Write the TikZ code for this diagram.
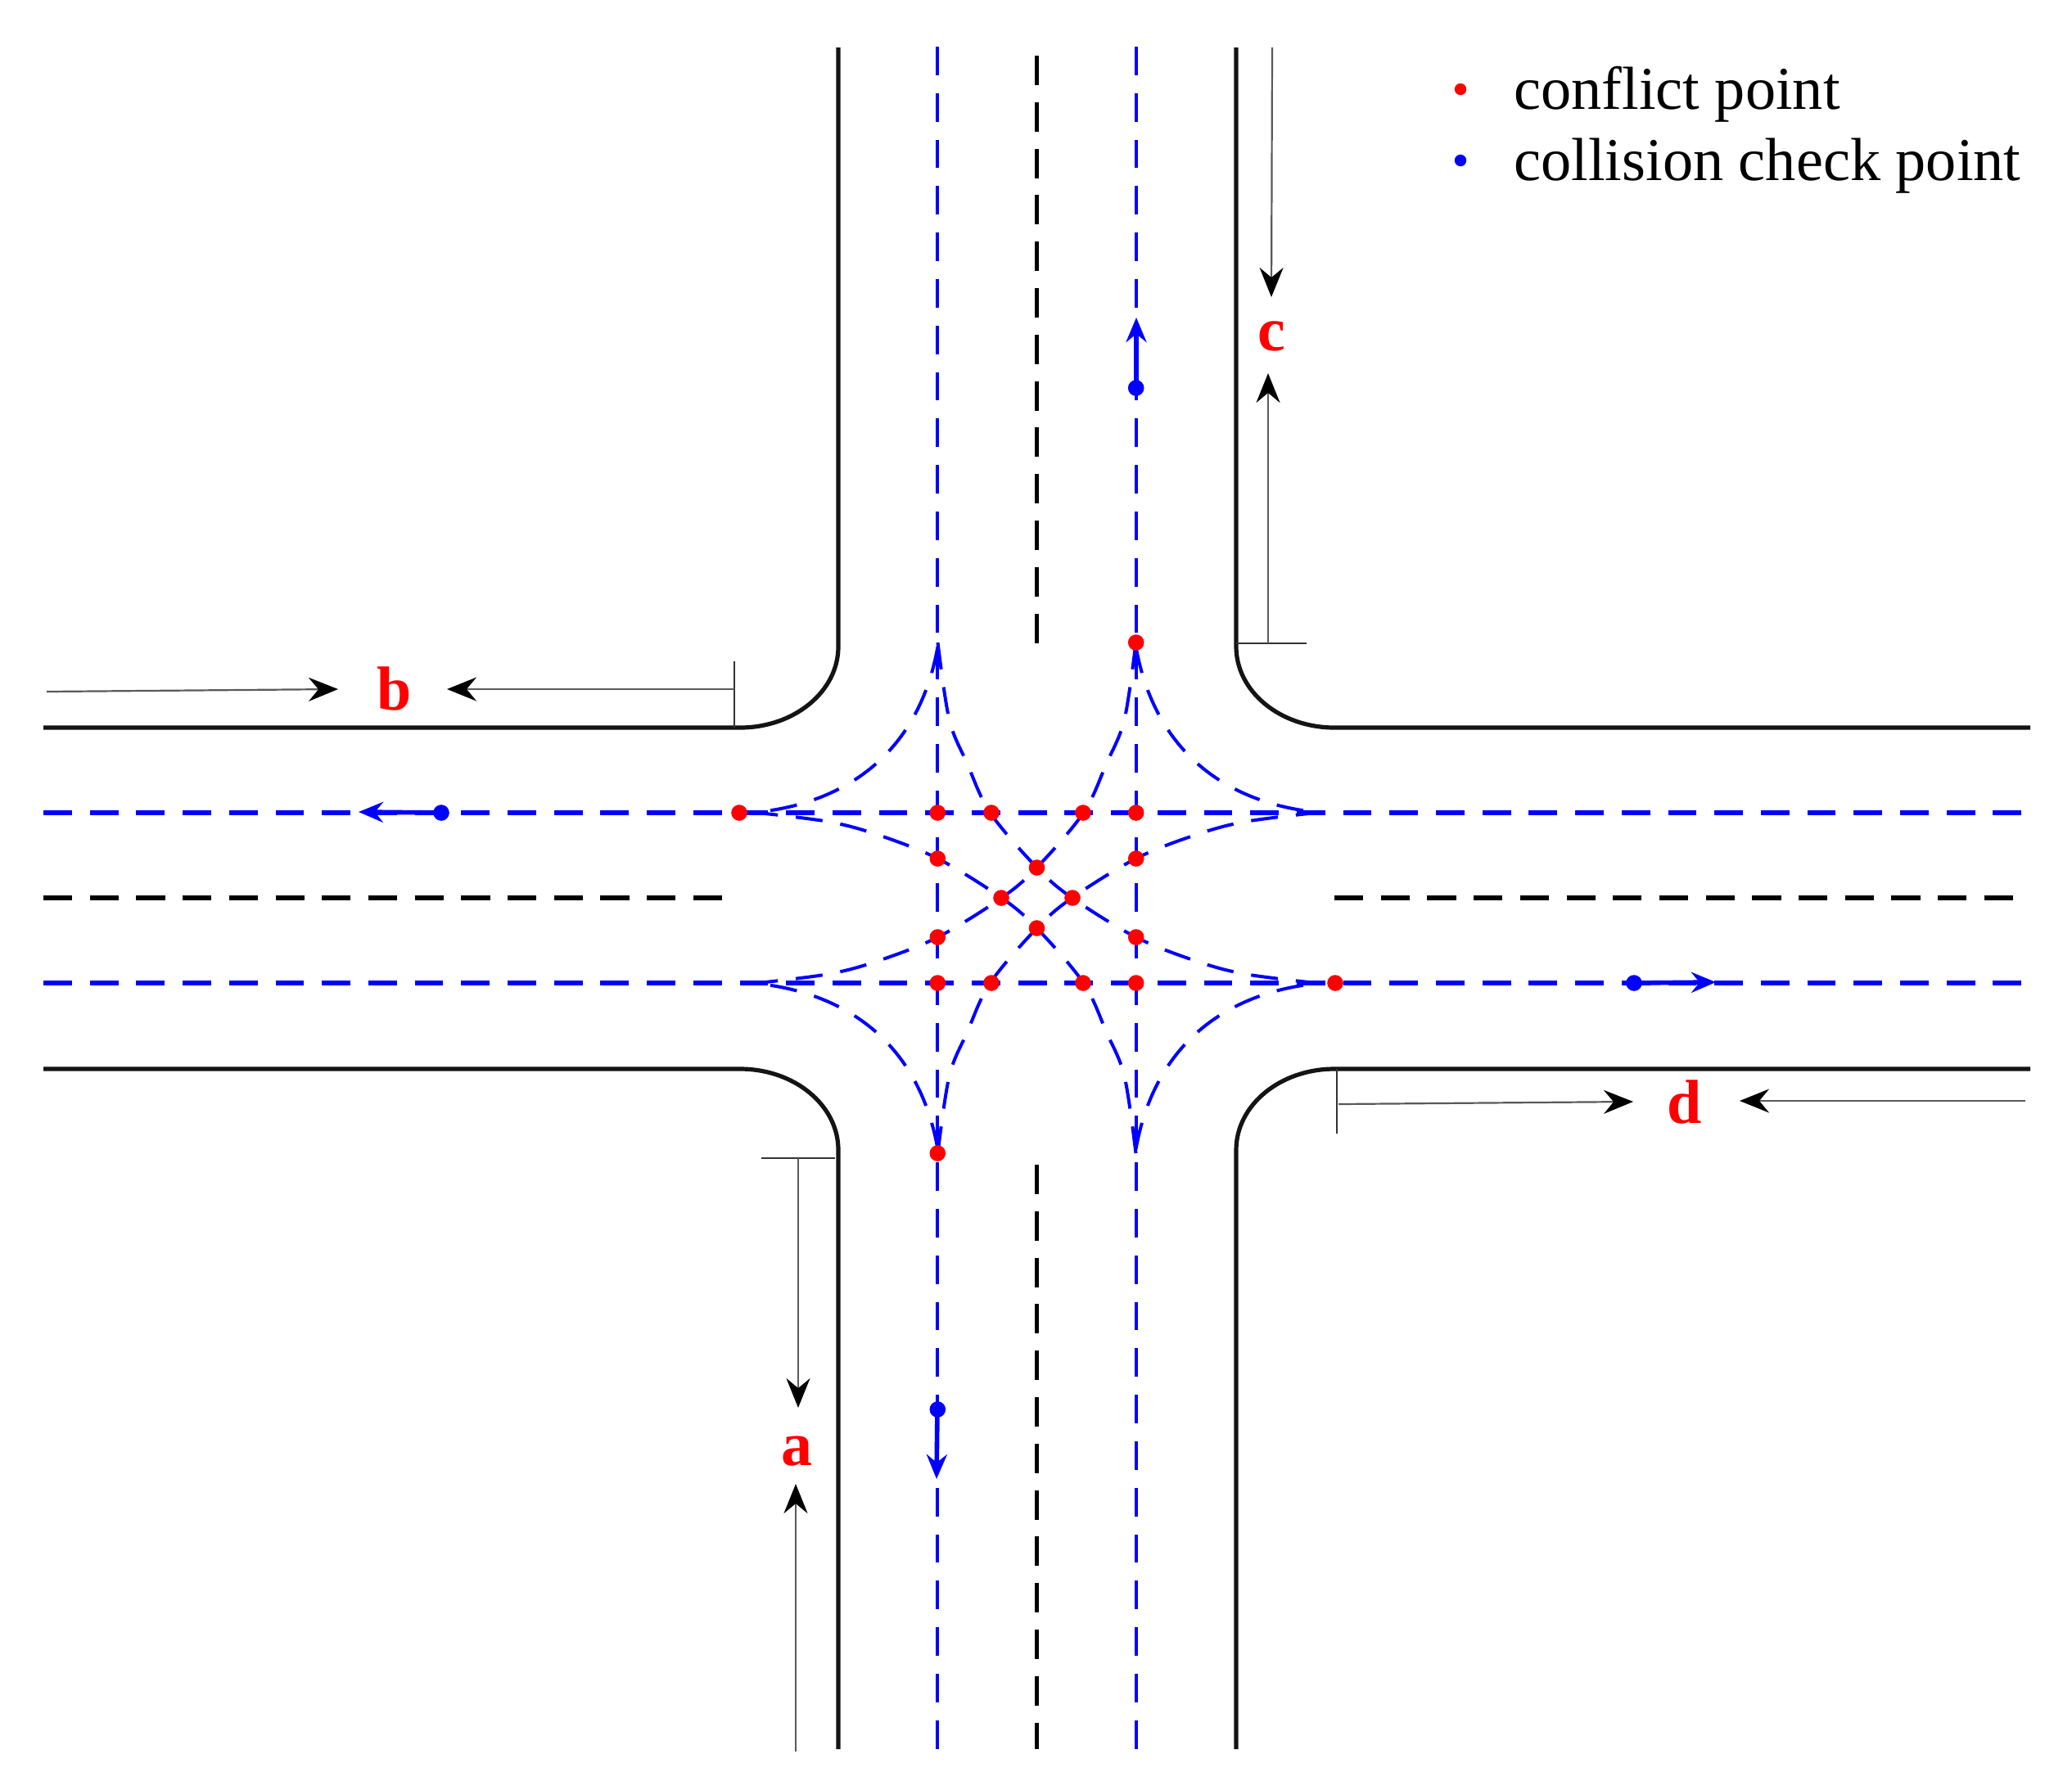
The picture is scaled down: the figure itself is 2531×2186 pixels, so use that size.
\documentclass[tikz,border=0pt]{standalone}
\usepackage{fontspec}
\setmainfont{Liberation Serif}
\usetikzlibrary{arrows.meta}
\definecolor{rblue}{RGB}{0,0,255}
\definecolor{rred}{RGB}{255,0,0}
\tikzset{
  road/.style={line width=2.6pt,black!92},
  centre/.style={line width=2.8pt,black,dash pattern=on 17.6pt off 10.75pt},
  centrev/.style={line width=2.8pt,black,dash pattern=on 18pt off 10.4pt},
  bluehoriz/.style={line width=2.8pt,rblue,dash pattern=on 17.4pt off 10.95pt},
  bluevert/.style={line width=2.1pt,rblue,dash pattern=on 17.4pt off 11pt},
  bluecurve/.style={line width=2pt,rblue,dash pattern=on 16.5pt off 11pt},
  redpt/.style={circle,fill=rred,inner sep=0pt,minimum size=9.8pt},
  bluept/.style={circle,fill=rblue,inner sep=0pt,minimum size=9.8pt},
  legred/.style={circle,fill=rred,inner sep=0pt,minimum size=7.2pt},
  legblue/.style={circle,fill=rblue,inner sep=0pt,minimum size=7.2pt},
  thinarrow/.style={line width=1.1pt,black!65,-{Stealth[length=18pt,width=14.5pt,inset=6pt,color=black]}},
  stopbar/.style={line width=1.4pt,black!80},
  bluearrow/.style={line width=2.8pt,rblue,-{Stealth[length=15pt,width=12.5pt,inset=5pt]}},
  approach/.style={text=rred,font=\bfseries\fontsize{38}{40}\selectfont,inner sep=0pt,anchor=base},
  legtext/.style={font=\fontsize{37.15}{40}\selectfont,inner sep=0pt,anchor=base west}
}
\newcommand{\leftturn}{plot[smooth,tension=0.55] coordinates {(121,-312) (107,-218) (85,-164) (57,-104) (0,-37) (-43,0) (-121,48) (-194,77) (-254,93) (-341,104)}}
\newcommand{\rightturn}{(-121,-307) .. controls (-146,-167) and (-246,-112) .. (-350,-104)}
\begin{document}
\begin{tikzpicture}[x=0.5pt,y=-0.5pt]
\useasboundingbox (0,0) rectangle (2531,2186);
% road edges
\draw[road] (1024,58) -- (1024,790) .. controls (1024,845) and (970,889) .. (904,889) -- (53,889);
\draw[road] (1510,58) -- (1510,790) .. controls (1510,845) and (1564,889) .. (1630,889) -- (2480,889);
\draw[road] (1024,2137) -- (1024,1405) .. controls (1024,1350) and (970,1306) .. (904,1306) -- (53,1306);
\draw[road] (1510,2137) -- (1510,1405) .. controls (1510,1350) and (1564,1306) .. (1630,1306) -- (2480,1306);
% centre lines
\draw[centrev] (1266.5,68) -- (1266.5,786);
\draw[centrev] (1266.5,1423) -- (1266.5,2137);
\draw[centre] (53,1097) -- (883,1097);
\draw[centre] (1630,1097) -- (2460,1097);
% straight blue paths
\draw[bluehoriz] (53,993) -- (2478,993);
\draw[bluehoriz] (53,1201) -- (2478,1201);
\draw[bluevert] (1145.3,57) -- (1145.3,2137);
\draw[bluevert] (1387.7,57) -- (1387.7,2137);
% turning paths
\begin{scope}[shift={(1266.5,1097)}]
  \draw[bluecurve] \leftturn;
  \draw[bluecurve,xscale=-1] \leftturn;
  \draw[bluecurve,yscale=-1] \leftturn;
  \draw[bluecurve,xscale=-1,yscale=-1] \leftturn;
  \draw[bluecurve] \rightturn;
  \draw[bluecurve,xscale=-1] \rightturn;
  \draw[bluecurve,yscale=-1] \rightturn;
  \draw[bluecurve,xscale=-1,yscale=-1] \rightturn;
\end{scope}
% stop bars
\coordinate (barAl) at (930,1415); \coordinate (barAr) at (1020,1415);
\coordinate (barBt) at (897,808);  \coordinate (barBb) at (897,889);
\coordinate (barCl) at (1510,786); \coordinate (barCr) at (1596,786);
\coordinate (barDt) at (1633,1306);\coordinate (barDb) at (1633,1385);
\draw[stopbar] (barAl) -- (barAr);
\draw[stopbar] (barBt) -- (barBb);
\draw[stopbar] (barCl) -- (barCr);
\draw[stopbar] (barDt) -- (barDb);
% approach labels
\node[approach] (la) at (973,1790) {a};
\node[approach] (lb) at (482,867) {b};
\node[approach] (lc) at (1553,428) {c};
\node[approach] (ld) at (2058,1372) {d};
% approach arrows
\coordinate (a1s) at (975,1415); \coordinate (a1e) at (975,1720);
\coordinate (a2s) at (972,2140); \coordinate (a2e) at (972,1813);
\coordinate (b1s) at (57,845);   \coordinate (b1e) at (413,842);
\coordinate (b2s) at (897,842);  \coordinate (b2e) at (546,842);
\coordinate (c1s) at (1554,58);  \coordinate (c1e) at (1553,363);
\coordinate (c2s) at (1549,786); \coordinate (c2e) at (1549,456);
\coordinate (d1s) at (1635,1349);\coordinate (d1e) at (1995,1346);
\coordinate (d2s) at (2474,1345);\coordinate (d2e) at (2125,1345);
\foreach \s/\e in {a1s/a1e,a2s/a2e,b1s/b1e,b2s/b2e,c1s/c1e,c2s/c2e,d1s/d1e,d2s/d2e}
  \draw[thinarrow] (\s) -- (\e);
% collision check points with heading arrows
\coordinate (ah) at (1144,1807); \coordinate (bh) at (438,992);
\coordinate (ch) at (1388,388);  \coordinate (dh) at (2096,1200);
\draw[bluearrow] (1145,1722) -- (ah);
\draw[bluearrow] (539,993) -- (bh);
\draw[bluearrow] (1388,474) -- (ch);
\draw[bluearrow] (1996,1201) -- (dh);
\node[bluept] (ca) at (1145.3,1722) {};
\node[bluept] (cb) at (539,993) {};
\node[bluept] (cc) at (1387.7,474) {};
\node[bluept] (cd) at (1996,1201) {};
% conflict points
\foreach \n/\x/\y in {p1/903/993,p2/1145.3/993,p3/1211/993,p4/1323/993,p5/1387.7/993,
  p6/1145.3/1049,p7/1387.7/1049,p8/1266.5/1060,p9/1223/1097,p10/1310/1097,p11/1266.5/1134,
  p12/1145.3/1145,p13/1387.7/1145,p14/1145.3/1201,p15/1211/1201,p16/1323/1201,p17/1387.7/1201,
  p18/1631/1201,p19/1387.7/785,p20/1145.3/1409}
  \node[redpt] (\n) at (\x,\y) {};
% legend
\node[legred] (lr) at (1784,109) {};
\node[legblue] (lbp) at (1784,196) {};
\node[legtext] (t1) at (1849,133) {conflict point};
\node[legtext] (t2) at (1849,220) {collision check point};
\end{tikzpicture}
\end{document}
